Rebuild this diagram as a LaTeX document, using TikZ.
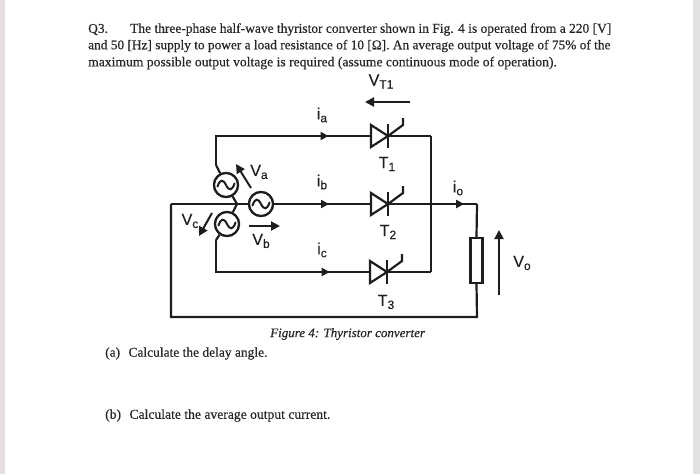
\documentclass[tikz,border=0pt]{standalone}
\usepackage{fontspec}
\setmainfont{Liberation Serif}[FakeBold=0.35]
\setsansfont{Liberation Sans}[FakeBold=0.2]
\usetikzlibrary{arrows.meta,decorations.markings}
\definecolor{ink}{RGB}{30,30,30}
\definecolor{bandl}{RGB}{232,222,224}
\definecolor{bandr}{RGB}{228,225,225}
\tikzset{
  wire/.style={draw=ink,line width=2.2pt},
  src/.style={circle,draw=ink,line width=2.2pt,fill=white,minimum size=24pt,inner sep=0pt},
  res/.style={rectangle,draw=ink,line width=2.2pt,fill=white,minimum width=12pt,minimum height=45pt,inner sep=0pt},
  vecarrow/.style={draw=ink,line width=2pt,-{Triangle[length=9pt,width=9pt]}},
  midarrow/.style={postaction={decorate},decoration={markings,mark=at position #1 with {\arrow{Triangle[length=8pt,width=8pt]}}}},
  txt/.style={anchor=west,inner sep=0pt,font=\fontsize{13.45}{15}\selectfont,text=black!85},
  lab/.style={inner sep=0pt,font=\sffamily\fontsize{16}{15}\selectfont,text=ink},
  thy/.pic={
    \draw[wire,fill=white] (-17,-11) -- (0,0) -- (-17,11) -- cycle;
    \draw[wire] (0,-12) -- (0,12);
    \draw[wire] (0,0) -- (15,-11) -- (15,-18);
  },
  wave/.pic={
    \draw[draw=ink,line width=2pt,line cap=round] (-8.5,1.5) .. controls (-6,-6) and (-3,-6) .. (0,0) .. controls (3,6) and (6,6) .. (8.5,-1.5);
  }
}
\begin{document}
\begin{tikzpicture}[x=1pt,y=-1pt]
\useasboundingbox (0,0) rectangle (700,474);
\fill[white] (0,0) rectangle (700,474);
\fill[bandl] (0,0) rectangle (5,474);
\fill[bandr] (693,0) rectangle (700,474);
% text
\node[txt] (q) at (88,29.5) {Q3.};
\node[txt] (l1) at (130,29.5) {The three-phase half-wave thyristor converter shown in Fig. 4 is operated from a 220 [V]};
\node[txt,font=\fontsize{13.35}{15}\selectfont] (l2) at (88,46) {and 50 [Hz] supply to power a load resistance of 10 [Ω]. An average output voltage of 75\% of the};
\node[txt,font=\fontsize{13.62}{15}\selectfont] (l3) at (88,63) {maximum possible output voltage is required (assume continuous mode of operation).};
\node[txt] (pa) at (105,353.5) {(a)\hspace{5pt} Calculate the delay angle.};
\node[txt,font=\fontsize{13.62}{15}\selectfont] (pb) at (105,415.5) {(b)\hspace{5pt} Calculate the average output current.};
\node[txt,font=\fontsize{13}{15}\selectfont\itshape] (cap) at (270,334) {Figure 4: Thyristor converter};
% coordinates
\coordinate (n) at (237,204);
\coordinate (tl) at (216,136);
\coordinate (tlb) at (216,165);
\coordinate (cl) at (216,272);
\coordinate (clb) at (216,240);
\coordinate (ra) at (431,136);
\coordinate (rb) at (431,204);
\coordinate (rc) at (431,272);
\coordinate (ol) at (477,204);
\coordinate (bl) at (171,317);
\coordinate (br) at (477,317);
\coordinate (lr) at (171,204);
% sources
\node[src] (sa) at (226,185) {};
\node[src] (sb) at (261,204) {};
\node[src] (sc) at (227,224) {};
\node[res] (r) at (476.5,260.5) {};
% wiring
\draw[wire,midarrow=0.58] (tlb) -- (tl) -- (ra);
\draw[wire] (tlb) -- (sa);
\draw[wire] (sa) -- (n);
\draw[wire] (sc) -- (n);
\draw[wire] (n) -- (sb);
\draw[wire] (lr) -- (n);
\draw[wire] (lr) -- (bl) -- (br) -- (r.south);
\draw[wire] (r.north) -- (ol);
\draw[wire,midarrow=0.35] (sb) -- (rb);
\draw[wire,midarrow=0.72] (rb) -- (ol);
\draw[wire] (sc) -- (clb);
\draw[wire,midarrow=0.59] (clb) -- (cl) -- (rc);
\draw[wire] (ra) -- (rc);
\node[src,fill=white] at (sa) {};
\node[src,fill=white] at (sb) {};
\node[src,fill=white] at (sc) {};
\pic at (sa) {wave};
\pic at (sb) {wave};
\pic at (sc) {wave};
% thyristors
\pic at (388,136) {thy};
\pic at (388,204) {thy};
\pic at (387,272) {thy};
% voltage arrows
\coordinate (vt1a) at (410,102); \coordinate (vt1b) at (365,102);
\draw[vecarrow] (vt1a) -- (vt1b);
\coordinate (vaa) at (251,188); \coordinate (vab) at (236,164);
\draw[vecarrow] (vaa) -- (vab);
\coordinate (vba) at (249,226); \coordinate (vbb) at (280,226);
\draw[vecarrow] (vba) -- (vbb);
\coordinate (vca) at (212,213); \coordinate (vcb) at (199,236);
\draw[vecarrow] (vca) -- (vcb);
\coordinate (voa) at (499,295); \coordinate (vob) at (499,230);
\draw[vecarrow] (voa) -- (vob);
% labels
\newcommand{\lbl}[2]{#1{\fontsize{12}{15}\selectfont\raisebox{-3pt}{#2}}}
\node[lab] (vt1) at (381,81.5) {\lbl{V}{T1}};
\node[lab] (ia) at (322,115) {\lbl{i}{a}};
\node[lab] (ib) at (322,182) {\lbl{i}{b}};
\node[lab] (ic) at (322,250) {\lbl{i}{c}};
\node[lab] (io) at (458,188) {\lbl{i}{o}};
\node[lab] (t1) at (387,164) {\lbl{T}{1}};
\node[lab] (t2) at (388,232) {\lbl{T}{2}};
\node[lab] (t3) at (386,302) {\lbl{T}{3}};
\node[lab] (va) at (259,172) {\lbl{V}{a}};
\node[lab] (vb) at (261,241) {\lbl{V}{b}};
\node[lab] (vc) at (190,221) {\lbl{V}{c}};
\node[lab] (vo) at (522,263) {\lbl{V}{o}};
\end{tikzpicture}
\end{document}
